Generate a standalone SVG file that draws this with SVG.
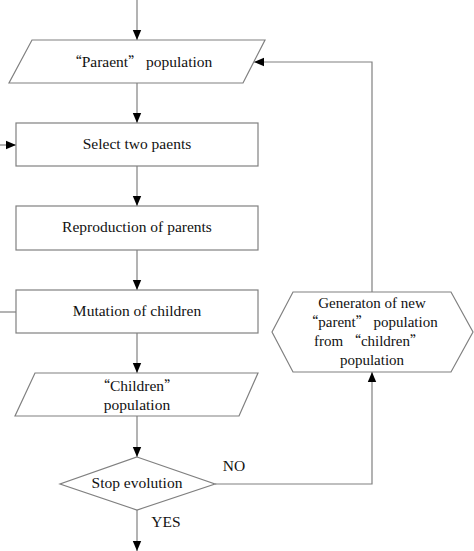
<svg xmlns="http://www.w3.org/2000/svg" width="474" height="551" viewBox="0 0 474 551">
<defs>
<style>
.shape{fill:#ffffff;stroke:#808080;stroke-width:1.2}
.conn{fill:none;stroke:#808080;stroke-width:1.2}
text{font-family:"Liberation Serif","Times New Roman",serif;font-size:15.5px;fill:#111;text-anchor:middle}
.h{font-size:15px}
.q{font-family:"Noto Sans CJK SC",serif;font-size:14px}
</style>
<marker id="arr" markerUnits="userSpaceOnUse" markerWidth="10" markerHeight="10" viewBox="0 0 10 10" refX="10" refY="5" orient="auto">
<path d="M0,0.8 L10,5 L0,9.2 Z" fill="#000"/>
</marker>
</defs>
<rect width="474" height="551" fill="#fff"/>
<g id="connectors">
<path class="conn" d="M137,0 V40" marker-end="url(#arr)"/>
<path class="conn" d="M137,83 V123" marker-end="url(#arr)"/>
<path class="conn" d="M137,166 V206" marker-end="url(#arr)"/>
<path class="conn" d="M137,250 V290" marker-end="url(#arr)"/>
<path class="conn" d="M137,333 V373" marker-end="url(#arr)"/>
<path class="conn" d="M137,416 V457" marker-end="url(#arr)"/>
<path class="conn" d="M137,510 V551" marker-end="url(#arr)"/>
<path class="conn" d="M215,484 H372 V372" marker-end="url(#arr)"/>
<path class="conn" d="M372,292 V62 H254" marker-end="url(#arr)"/>
<path class="conn" d="M0,145 H16" marker-end="url(#arr)"/>
<path class="conn" d="M0,312 H16"/>
<text x="234" y="471">NO</text>
<text x="166" y="527">YES</text>
</g>
<g id="parent-population">
<polygon class="shape" points="32,40 265,40 243,83 9,83"/>
<text x="140" y="67"><tspan class="q">“</tspan>Paraent<tspan class="q">”</tspan> population</text>
</g>
<g id="select">
<rect class="shape" x="16" y="123" width="242" height="43"/>
<text x="137" y="149">Select two paents</text>
</g>
<g id="reproduction">
<rect class="shape" x="16" y="206" width="242" height="44"/>
<text x="137" y="232">Reproduction of parents</text>
</g>
<g id="mutation">
<rect class="shape" x="16" y="290" width="242" height="43"/>
<text x="137" y="316">Mutation of children</text>
</g>
<g id="children-population">
<polygon class="shape" points="35,373 258,373 239,416 15,416"/>
<text x="137" y="391"><tspan class="q">“</tspan>Children<tspan class="q">”</tspan></text>
<text x="137" y="410">population</text>
</g>
<g id="stop">
<polygon class="shape" points="137,457 215,484 137,510 60,484"/>
<text x="137" y="488">Stop evolution</text>
</g>
<g id="generation">
<polygon class="shape" points="272,332 293,292 451,292 473,332 451,372 293,372"/>
<text class="h" x="372" y="308">Generaton of new</text>
<text class="h" x="371" y="327"><tspan class="q">“</tspan>parent<tspan class="q">”</tspan> population</text>
<text class="h" x="369" y="346">from <tspan class="q">“</tspan>children<tspan class="q">”</tspan></text>
<text class="h" x="372" y="365">population</text>
</g>
</svg>
